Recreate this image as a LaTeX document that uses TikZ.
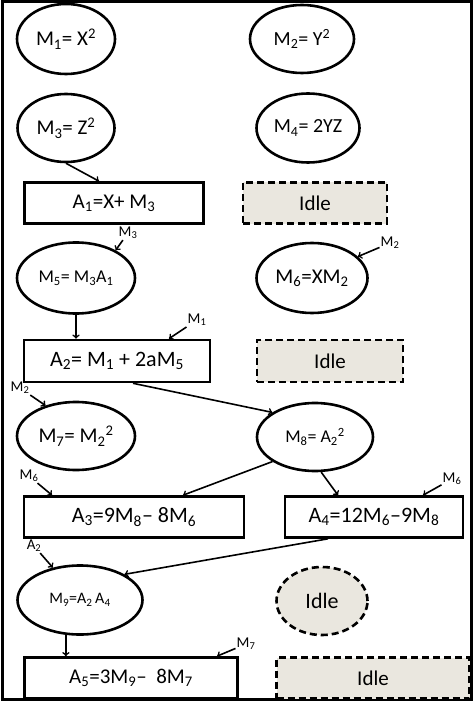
\documentclass[tikz,border=0pt]{standalone}
\usepackage{fontspec}
\setmainfont{Carlito}
\usepackage{tikz}
\usetikzlibrary{shapes.geometric}
\definecolor{idlefill}{RGB}{234,231,223}
\tikzset{
    mop/.style={ellipse, draw, line width=2.6pt, inner sep=0pt, font=\fontsize{#1}{#1}\selectfont},
    mop/.default=21,
    aop/.style={rectangle, draw, line width=2.6pt, inner sep=0pt, font=\fontsize{#1}{#1}\selectfont},
    aop/.default=21,
    idlebox/.style={rectangle, draw, line width=2.6pt, dash pattern=on 7pt off 4pt, fill=idlefill, inner sep=0pt, font=\fontsize{21}{21}\selectfont},
    lbl/.style={inner sep=1pt, font=\fontsize{15}{15}\selectfont},
    arr/.style={->, line width=1.6pt},
}
\newcommand{\sbs}[1]{\textsubscript{#1}}
\newcommand{\sps}[1]{\textsuperscript{#1}}
\begin{document}
\begin{tikzpicture}[x=1pt, y=-1pt]
\useasboundingbox (0,0) rectangle (474,703);
\draw[line width=3pt] (2,2) rectangle (471,699);

% multiplier and adder steps
\node[mop, minimum width=98pt, minimum height=70pt] (m1) at (66,39) {M\sbs{1}= X\sps{2}};
\node[mop=20, minimum width=104pt, minimum height=68pt] (m2) at (302,39) {M\sbs{2}= Y\sps{2}};
\node[mop, minimum width=97pt, minimum height=68pt] (m3) at (66,128) {M\sbs{3}= Z\sps{2}};
\node[mop=20, minimum width=103pt, minimum height=69pt] (m4) at (308,128) {M\sbs{4}= 2YZ};
\node[aop, minimum width=179pt, minimum height=41pt] (a1) at (114,203) {A\sbs{1}=X+ M\sbs{3}};
\node[idlebox, minimum width=144pt, minimum height=41pt] (idle1) at (315,203) {Idle};
\node[mop=18, minimum width=118pt, minimum height=71pt] (m5) at (76,278) {M\sbs{5}= M\sbs{3}A\sbs{1}};
\node[mop, minimum width=111pt, minimum height=70pt] (m6) at (312,278) {M\sbs{6}=XM\sbs{2}};
\node[aop=22, minimum width=186pt, minimum height=42pt] (a2) at (117,361) {A\sbs{2}= M\sbs{1} + 2aM\sbs{5}};
\node[idlebox, minimum width=146pt, minimum height=42pt] (idle2) at (330,361) {Idle};
\node[mop, minimum width=118pt, minimum height=68pt] (m7) at (76,436) {M\sbs{7}= M\sbs{2}\sps{2}};
\node[mop=18, minimum width=116pt, minimum height=68pt] (m8) at (315,437) {M\sbs{8}= A\sbs{2}\sps{2}};
\node[aop=22, minimum width=220pt, minimum height=41pt] (a3) at (134,517) {A\sbs{3}=9M\sbs{8}-- 8M\sbs{6}};
\node[aop=22, minimum width=178pt, minimum height=41pt] (a4) at (374,517) {A\sbs{4}=12M\sbs{6}--9M\sbs{8}};
\node[mop=16, minimum width=125pt, minimum height=69pt] (m9) at (80,600) {M\sbs{9}=A\sbs{2}\,A\sbs{4}};
\node[mop=22, dash pattern=on 7pt off 4pt, fill=idlefill, minimum width=91pt, minimum height=68pt] (idle4) at (322,601) {Idle};
\node[aop, minimum width=213pt, minimum height=41pt] (a5) at (131,678) {A\sbs{5}=3M\sbs{9}--\ \ 8M\sbs{7}};
\node[idlebox, minimum width=193pt, minimum height=41pt] (idle3) at (373,678) {Idle};

% operands coming in
\node[lbl] (lm3) at (128,233) {M\sbs{3}};
\node[lbl] (lm2a) at (390,243) {M\sbs{2}};
\node[lbl] (lm1) at (197,320) {M\sbs{1}};
\node[lbl] (lm2b) at (20,388) {M\sbs{2}};
\node[lbl] (lm6a) at (29,476) {M\sbs{6}};
\node[lbl] (lm6b) at (452,479) {M\sbs{6}};
\node[lbl] (la2) at (34,546) {A\sbs{2}};
\node[lbl] (lm7) at (246,644) {M\sbs{7}};

\draw[arr] (m3.south) -- ([xshift=-15pt]a1.north);
\draw[arr] (m5.south) -- (m5.south |- a2.north);
\draw[arr] ([xshift=16pt]a2.south) -- (m8.150);
\draw[arr] (m8.210) -- ([xshift=49pt]a3.north);
\draw[arr] (m8.-80) -- ([xshift=-36pt]a4.north);
\draw[arr] ([xshift=-46pt]a4.south) -- (m9.30);
\draw[arr] (m9.248) -- (m9.248 |- a5.north);

\draw[arr] (lm3) -- (m5.35);
\draw[arr] (lm2a) -- (m6.25);
\draw[arr] (lm1) -- ([xshift=52pt]a2.north);
\draw[arr] (lm2b) -- (m7.135);
\draw[arr] (lm6a) -- ([xshift=-82pt]a3.north);
\draw[arr] (lm6b) -- ([xshift=49pt]a4.north);
\draw[arr] (la2) -- (m9.130);
\draw[arr] (lm7) -- ([xshift=86pt]a5.north);
\end{tikzpicture}
\end{document}
